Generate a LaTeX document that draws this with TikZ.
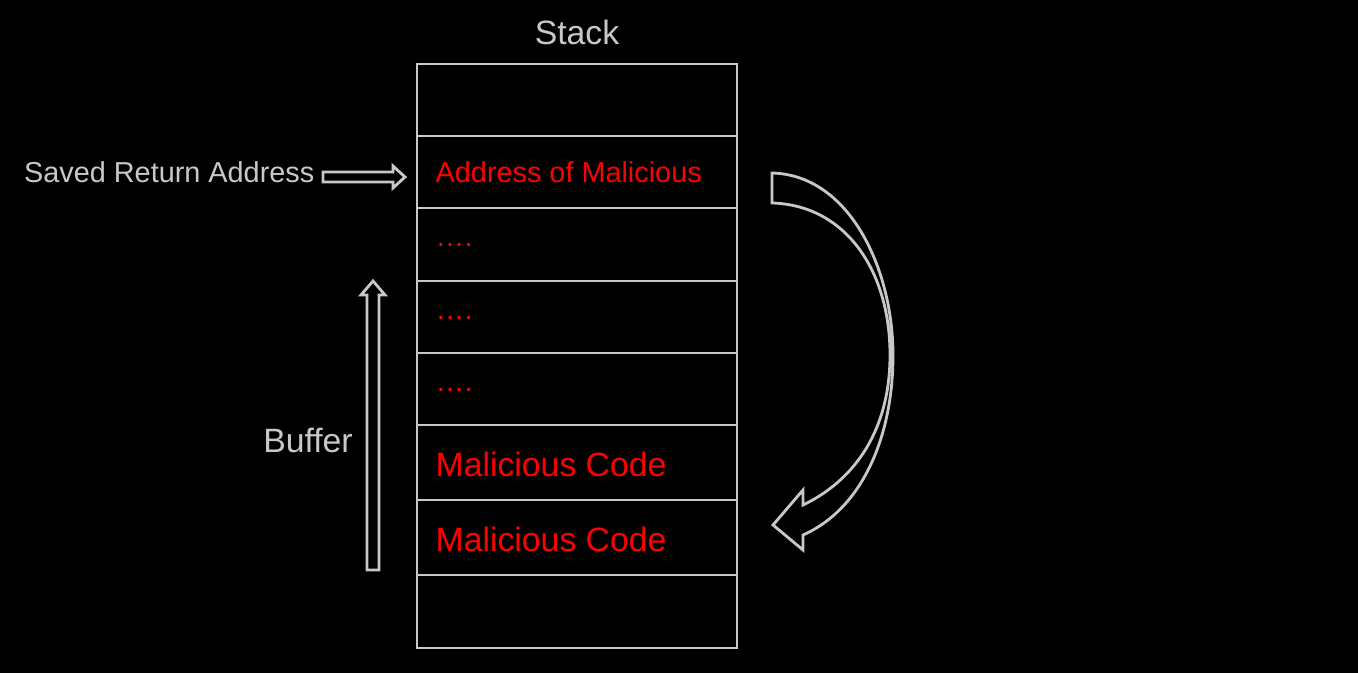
\documentclass[tikz,border=0pt]{standalone}
\usepackage{fontspec}
\setmainfont{Liberation Sans}
\begin{document}
\begin{tikzpicture}[x=0.01cm,y=-0.01cm,
  red txt/.style={text=red,anchor=west,inner sep=0},
  gray txt/.style={text=lgray,inner sep=0},
  small/.style={font=\fontsize{8.2}{10}\selectfont},
  big/.style={font=\fontsize{9.6}{12}\selectfont}]
\definecolor{lgray}{RGB}{200,200,200}
\fill[black] (0,0) rectangle (1358,673);
\useasboundingbox (0,0) rectangle (1358,673);
\draw[lgray,line width=0.8pt] (417,64) rectangle (737,648);
\foreach \yy in {136,208,281,353,425,500,575} \draw[lgray,line width=0.8pt] (417,\yy) -- (737,\yy);
\node[gray txt,big] (stack) at (577,32) {Stack};
\node[red txt,small] (addr) at (435,172) {Address of Malicious};
\node[red txt,small] (d1) at (435,245) {\dots.};
\node[red txt,small] (d2) at (435,318) {\dots.};
\node[red txt,small] (d3) at (435,390) {\dots.};
\node[red txt,big] (m1) at (435,464) {Malicious Code};
\node[red txt,big] (m2) at (435,539) {Malicious Code};
\node[gray txt,small,anchor=east] (sra) at (315,172) {Saved Return Address};
\node[gray txt,big] (buf) at (308,440) {Buffer};
% horizontal hollow arrow
\draw[lgray,line width=0.8pt] (323,172) -- (393,172) -- (393,166) -- (405,177) -- (393,188) -- (393,182) -- (323,182) -- cycle;
% vertical hollow arrow
\draw[lgray,line width=0.8pt] (367,570) -- (367,295) -- (361,295) -- (373,281) -- (385,295) -- (379,295) -- (379,570) -- cycle;
% curved hollow arrow
\draw[lgray,line width=0.8pt] (772,173) .. controls (850,175) and (893,270) .. (893,355)
  .. controls (893,440) and (860,510) .. (803,535) -- (803,550) -- (773,525) -- (803,490) -- (803,505)
  .. controls (855,480) and (890,430) .. (890,355) .. controls (890,270) and (845,205) .. (772,203) -- cycle;
\end{tikzpicture}
\end{document}
